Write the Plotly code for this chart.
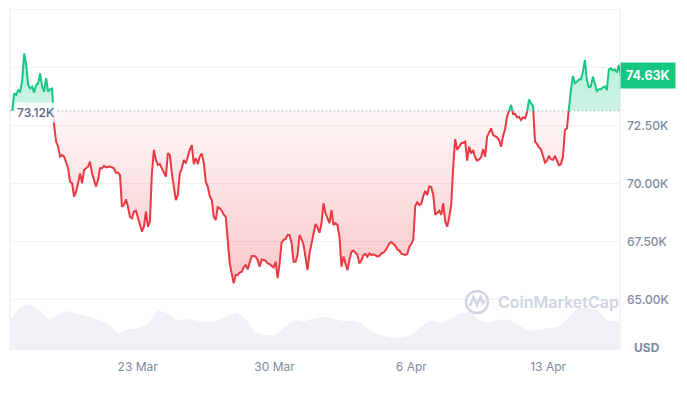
import numpy as np
import pandas as pd
import plotly.graph_objects as go

# ---------------- data ----------------
price_k = [
    73.12, 73.88, 73.81, 74.02, 73.95, 74.45, 75.60, 75.10, 74.24, 74.09,
    74.17, 73.91, 74.24, 74.31, 74.74, 74.17, 73.95, 74.53, 73.95, 74.05,
    74.09, 72.51, 71.80, 71.58, 71.15, 71.22, 71.15, 70.93, 70.65, 70.07,
    70.00, 69.43, 69.64, 70.00, 70.43, 70.00, 70.57, 70.65, 70.72, 70.93,
    70.43, 70.14, 69.86, 70.14, 70.65, 70.65, 70.75, 70.69, 70.72, 70.72,
    70.69, 70.65, 70.46, 70.46, 70.36, 68.99, 69.07, 69.31, 68.99, 68.56,
    68.49, 68.78, 68.82, 68.49, 68.13, 67.92, 68.13, 68.78, 68.13, 68.35,
    70.43, 71.44, 71.01, 70.79, 70.83, 70.65, 70.46, 70.29, 71.29, 71.22,
    70.43, 69.89, 69.28, 69.50, 70.43, 70.65, 71.01, 70.86, 71.18, 71.44,
    71.65, 70.83, 71.08, 70.83, 71.15, 71.29, 70.89, 70.07, 69.86, 69.45,
    69.28, 68.56, 68.42, 68.97, 68.92, 68.82, 68.65, 68.56, 67.56, 66.55,
    66.12, 65.69, 66.05, 66.05, 66.15, 66.19, 66.38, 66.48, 66.29, 66.55,
    66.87,
    66.87, 66.84, 66.70, 66.41, 66.72, 66.70, 66.67, 66.55, 66.52, 66.44,
    66.38, 66.62, 65.91, 66.55, 67.44, 67.56, 67.59, 67.77, 67.77, 67.44,
    66.62, 66.62, 66.91, 67.77, 67.60, 67.34, 66.70, 66.26, 66.98, 67.39,
    67.70, 68.25, 68.10, 67.87, 68.28, 69.14, 68.71, 68.49, 68.28, 68.85,
    68.20, 68.28, 68.20, 67.70, 66.41, 66.84, 66.55, 66.26, 66.70, 67.05,
    67.10, 67.01, 66.91, 66.55, 66.67, 66.91, 66.95, 66.84, 66.98, 66.91,
    66.94,
    66.90, 66.84, 66.87, 66.98, 67.01, 67.10, 67.24, 67.41, 67.47, 67.37,
    67.31, 67.15, 67.10, 66.97, 66.95, 66.91, 66.95, 67.27, 67.37, 67.59,
    69.02, 69.18, 69.07, 69.11, 69.45, 69.67, 69.50, 69.86, 69.84, 69.50,
    68.64, 68.74, 68.82, 68.64, 69.14, 68.35, 68.13, 68.53, 69.07, 70.72,
    71.90, 71.44, 71.61, 71.72, 71.75, 71.80, 70.98, 71.58, 71.29, 71.44,
    71.12, 70.98, 71.03, 71.12, 71.47, 71.15, 72.01, 72.18, 72.37, 72.08,
    72.04,
    71.98, 71.87, 71.58, 72.04, 72.33, 72.87, 73.12, 73.38, 72.99, 73.00,
    72.84, 72.86, 72.73, 72.84, 72.80, 73.05, 73.62, 73.45, 73.33, 71.80,
    71.70, 71.55, 71.47, 71.18, 70.89, 70.98, 71.18, 71.03, 71.01, 71.18,
    71.01, 70.78, 70.83, 71.15, 72.30, 72.37, 73.23, 74.02, 74.63, 74.31,
    74.38, 74.48, 74.48, 74.81, 75.32, 74.45, 74.14, 74.17, 74.60, 74.24,
    73.97, 74.05, 74.05, 74.14, 74.17, 74.02, 74.91, 74.96, 74.86, 74.91,
    74.78, 75.10, 74.63,
]
price_start = "2025-03-16 13:58"
price_step = "147min"

volume_b = [
    15.2, 21.8, 22.7, 19.8, 14.7, 18.2, 19.5, 17.7, 16.8, 15.2,
    13.3, 8.2, 10.2, 10.7, 12.5, 19.8, 18.5, 14.8, 15.5, 14.7,
    13.7, 14.5, 16.5, 18.7, 16.0, 8.8, 7.5, 7.2, 11.5, 15.2,
    14.3, 15.7, 16.7, 15.7, 14.5, 14.7, 13.0, 9.0, 7.3, 6.3,
    6.2, 7.3, 11.8, 14.8, 13.5, 15.5, 18.5, 19.0, 14.7, 13.8,
    15.3, 15.2, 12.3, 9.5, 10.3, 11.0, 11.5, 15.7, 21.0, 21.0,
    20.2, 14.7, 14.3, 14.3,
]
volume_start = "2025-03-16 12:00"

x_tick_dates = ["2025-03-23", "2025-03-30", "2025-04-06", "2025-04-13"]
x_tick_labels = ["23 Mar", "30 Mar", "6 Apr", "13 Apr"]
y_tick_vals = [65000, 67500, 70000, 72500, 75000, 77500]
y_tick_labels = ["65.00K", "67.50K", "70.00K", "72.50K", "", ""]

# ---------------- derived ----------------
P = np.array(price_k) * 1000.0
times = pd.date_range(price_start, periods=len(P), freq=price_step)
vtimes = pd.date_range(volume_start, periods=len(volume_b), freq="12h")
base = P[0]
last = P[-1]

ts = times.asi8.astype(float)
aug_t, aug_p = [ts[0]], [P[0]]
for i in range(1, len(P)):
    a, b = P[i - 1] - base, P[i] - base
    if a * b < 0:
        f = a / (a - b)
        aug_t.append(ts[i - 1] + f * (ts[i] - ts[i - 1]))
        aug_p.append(base)
    aug_t.append(ts[i])
    aug_p.append(P[i])
aug_t = pd.to_datetime(np.array(aug_t).astype("int64"))
aug_p = np.array(aug_p)

green_line = np.where(aug_p >= base, aug_p, np.nan)
red_line = np.where(aug_p <= base, aug_p, np.nan)
upper = np.maximum(aug_p, base)
lower = np.minimum(aug_p, base)
base_arr = np.full(len(aug_p), base)

GREEN = "#16c784"
RED = "#ea3943"
GRID = "#eff2f5"
AXTXT = "#808a9d"
FONT = "Inter"

# figure size (page has an 8px body margin)
W, H = 679, 385
# plot area in figure coordinates
L, T, PW, PH = 2, 0, 610, 342
R, B = W - L - PW, H - T - PH
# plot area in page (screenshot) coordinates
PL, PT = L + 8, T + 8


def px(x):
    return (x - PL) / PW


def py(y):
    return (PT + PH - y) / PH


fig = go.Figure()

# volume
fig.add_trace(go.Scatter(x=vtimes, y=volume_b, yaxis="y2", mode="lines",
                         line=dict(width=0, color="#eff1f5"), fill="tozeroy",
                         fillcolor="#eff1f5", hoverinfo="skip"))

# green fill
fig.add_trace(go.Scatter(x=aug_t, y=base_arr, mode="lines", line=dict(width=0), hoverinfo="skip"))
fig.add_trace(go.Scatter(x=aug_t, y=upper, mode="lines", line=dict(width=0), fill="tonexty",
                         fillgradient=dict(type="vertical",
                                           colorscale=[[0, "rgba(22,199,132,0.22)"], [1, "rgba(22,199,132,0.30)"]],
                                           start=base, stop=76000),
                         hoverinfo="skip"))
# red fill
fig.add_trace(go.Scatter(x=aug_t, y=base_arr, mode="lines", line=dict(width=0), hoverinfo="skip"))
fig.add_trace(go.Scatter(x=aug_t, y=lower, mode="lines", line=dict(width=0), fill="tonexty",
                         fillgradient=dict(type="vertical",
                                           colorscale=[[0, "rgba(234,57,67,0.30)"], [1, "rgba(234,57,67,0.04)"]],
                                           start=65000, stop=base),
                         hoverinfo="skip"))
# lines
fig.add_trace(go.Scatter(x=aug_t, y=red_line, mode="lines", line=dict(color=RED, width=2),
                         connectgaps=False, hoverinfo="skip"))
fig.add_trace(go.Scatter(x=aug_t, y=green_line, mode="lines", line=dict(color=GREEN, width=2),
                         connectgaps=False, hoverinfo="skip"))

shapes = [
    dict(type="line", xref="paper", yref="y", x0=0, x1=1, y0=base, y1=base,
         line=dict(color="#9aa3b3", width=1, dash="1px,3px"), layer="above"),
    dict(type="line", xref="paper", yref="paper", x0=0, x1=0, y0=0, y1=1,
         line=dict(color="#e6e9ee", width=1), layer="below"),
    dict(type="line", xref="paper", yref="paper", x0=1, x1=1, y0=0, y1=1,
         line=dict(color="#e6e9ee", width=1), layer="below"),
    # watermark logo
    dict(type="circle", xref="paper", yref="paper", x0=px(466), x1=px(488), y0=py(313), y1=py(291),
         line=dict(color="#cfd5e1", width=2.5), layer="above"),
    dict(type="path", xref="paper", yref="paper",
         path=f"M {px(470)},{py(306)} L {px(473.5)},{py(297)} L {px(477)},{py(305)} "
              f"L {px(480.5)},{py(297)} L {px(483)},{py(303)} L {px(485)},{py(301)}",
         line=dict(color="#cfd5e1", width=2.5), layer="above"),
]

annotations = [
    dict(x=px(14), xref="paper", xanchor="left", y=base, yref="y", yanchor="middle", yshift=-2,
         text="73.12K", showarrow=False, bgcolor="rgba(255,255,255,0.85)", borderpad=2,
         font=dict(family=FONT, size=12, color="#58667e", weight=500)),
    dict(x=px(620), xref="paper", xanchor="left", y=last, yref="y", yanchor="middle",
         text="<b>74.63K</b>", showarrow=False, bgcolor=GREEN, borderpad=5,
         font=dict(family=FONT, size=12.5, color="white")),
    dict(x=px(496), xref="paper", xanchor="left", y=py(302), yref="paper", yanchor="middle",
         text="CoinMarketCap", showarrow=False,
         font=dict(family=FONT, size=16, color="#cfd5e1", weight=600)),
    dict(x=px(632), xref="paper", xanchor="left", y=py(347), yref="paper", yanchor="middle",
         text="<b>USD</b>", showarrow=False,
         font=dict(family=FONT, size=12, color=AXTXT)),
]

fig.update_layout(
    width=W, height=H,
    margin=dict(l=L, r=R, t=T, b=B, pad=0),
    paper_bgcolor="white", plot_bgcolor="white",
    showlegend=False, hovermode=False,
    font=dict(family=FONT, color=AXTXT),
    xaxis=dict(type="date", range=["2025-03-16 11:15", "2025-04-16 16:13"],
               tickvals=x_tick_dates, ticktext=x_tick_labels, showgrid=False,
               zeroline=False, showline=False, ticks="",
               tickfont=dict(family=FONT, size=12, color=AXTXT), ticklabelstandoff=8),
    yaxis=dict(side="right", range=[62816, 77557], tickvals=y_tick_vals, ticktext=y_tick_labels,
               showgrid=True, gridcolor=GRID, gridwidth=1, zeroline=False, showline=False,
               ticks="", tickfont=dict(family=FONT, size=12, color=AXTXT, weight=500),
               ticklabelstandoff=6),
    yaxis2=dict(overlaying="y", range=[0, 171], visible=False),
    shapes=shapes,
    annotations=annotations,
)

fig.write_html("out.html")
